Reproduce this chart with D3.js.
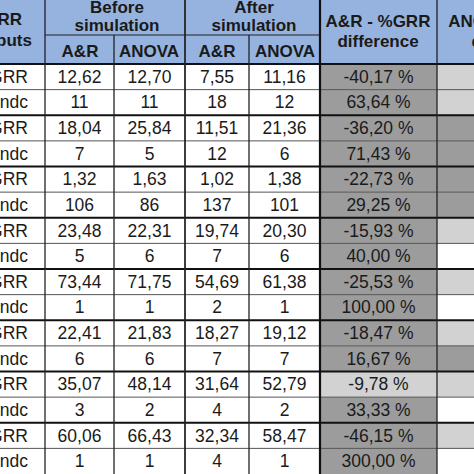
<!DOCTYPE html><html><head><meta charset="utf-8"><script src="https://cdn.jsdelivr.net/npm/d3@7"></script>
<style>body{margin:0;background:#fff}svg{display:block;font-family:"Liberation Sans",Arial,sans-serif}</style></head><body><svg id="c" width="474" height="474"></svg>
<script>
const rowLabels=["%GRR","ndc","%GRR","ndc","%GRR","ndc","%GRR","ndc","%GRR","ndc","%GRR","ndc","%GRR","ndc","%GRR","ndc"];
const beforeAR=["12,62","11","18,04","7","1,32","106","23,48","5","73,44","1","22,41","6","35,07","3","60,06","1"];
const beforeANOVA=["12,70","11","25,84","5","1,63","86","22,31","6","71,75","1","21,83","6","48,14","2","66,43","1"];
const afterAR=["7,55","18","11,51","12","1,02","137","19,74","7","54,69","2","18,27","7","31,64","4","32,34","4"];
const afterANOVA=["11,16","12","21,36","6","1,38","101","20,30","6","61,38","1","19,12","7","52,79","2","58,47","1"];
const arDiff=["-40,17 %","63,64 %","-36,20 %","71,43 %","-22,73 %","29,25 %","-15,93 %","40,00 %","-25,53 %","100,00 %","-18,47 %","16,67 %","-9,78 %","33,33 %","-46,15 %","300,00 %"];
const arShade=["d","d","d","d","d","d","d","d","d","d","d","d","l","d","d","d"];
const anovaShade=["l","l","d","d","d","d","l","w","l","w","l","d","l","w","l","w"];
const shadeCol={d:"#9c9c9c",l:"#d2d2d2",w:"#ffffff"};
const svg=d3.select("#c");
const colEdges=[-60,45,114,185,249,320,437,560];
const y=d3.scaleBand().domain(d3.range(16)).range([64,474]);
const hdr="#95b3de";
svg.append("rect").attr("x",0).attr("y",0).attr("width",474).attr("height",64).attr("fill",hdr);
const cols=[rowLabels,beforeAR,beforeANOVA,afterAR,afterANOVA,arDiff];
d3.range(16).forEach(i=>{
  svg.append("rect").attr("x",320).attr("y",y(i)).attr("width",117).attr("height",y.bandwidth()).attr("fill",shadeCol[arShade[i]]);
  svg.append("rect").attr("x",437).attr("y",y(i)).attr("width",40).attr("height",y.bandwidth()).attr("fill",shadeCol[anovaShade[i]]);
});
cols.forEach((arr,c)=>{
  const x0=colEdges[c],x1=colEdges[c+1];
  svg.selectAll(null).data(arr).enter().append("text")
   .attr("x",c===0?28:(x0+x1)/2).attr("text-anchor",c===0?"end":"middle")
   .attr("y",(d,i)=>y(i)+y.bandwidth()/2+6).attr("font-size",17.5).attr("fill","#1a1a1a").text(d=>d);
});
const ht=(t,x,yy,anchor)=>svg.append("text").attr("x",x).attr("y",yy).attr("text-anchor",anchor||"middle").attr("font-size",17).attr("font-weight","bold").attr("fill","#1a1a1a").text(t);
ht("%GRR",22,25,"end");ht("outputs",32,46,"end");
ht("Before",117,13);ht("simulation",117,31);
ht("After",254,13);ht("simulation",254,31);
ht("A&R",80,57);ht("ANOVA",149,57);ht("A&R",217,57);ht("ANOVA",285,57);
ht("A&R - %GRR",378,27);ht("difference",378,47);
ht("ANOVA - %GRR",512,27);ht("difference",512,47);
const ln=(x1,y1,x2,y2,w,c)=>svg.append("line").attr("x1",x1).attr("y1",y1).attr("x2",x2).attr("y2",y2).attr("stroke",c).attr("stroke-width",w);
ln(45,35,320,35,1.2,"#222");
ln(0,64,474,64,2,"#111");
d3.range(1,16).forEach(i=>ln(0,y(i),474,y(i),i%2===0?2.2:1,i%2===0?"#111":"#555"));
[45,114,185,249].forEach(x=>ln(x,x===114||x===249?35:0,x,474,1.3,"#222"));
ln(185,0,185,474,1.3,"#222");
ln(320,0,320,474,2.2,"#111");ln(437,0,437,474,1.3,"#222");
</script></body></html>
